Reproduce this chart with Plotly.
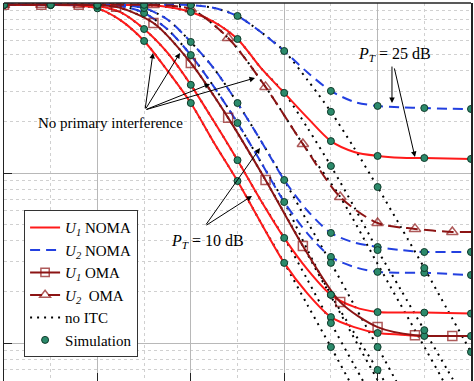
import plotly.graph_objects as go

# SNR grid (dB) for the analytical curves
snr = [0, 2.5, 5, 7.5, 10, 12.5, 15, 17.5, 20, 22.5, 25, 27.5, 30, 32.5, 35, 37.5, 40, 42.5, 45, 47.5, 50]

# U1 NOMA (red solid)
u1_noma_nopi = [0.975, 0.975, 0.975, 0.97, 0.93, 0.79, 0.598, 0.40, 0.258, 0.150, 0.0897, 0.051, 0.0296, 0.0195, 0.0142, 0.0124, 0.01145, 0.0112, 0.0110, 0.0110, 0.0110]
u1_noma_p10 = [0.975, 0.975, 0.975, 0.975, 0.96, 0.88, 0.703, 0.51, 0.33, 0.20, 0.119, 0.069, 0.0415, 0.027, 0.0192, 0.0163, 0.0152, 0.0151, 0.0151, 0.0150, 0.0149]
u1_noma_p25 = [0.975, 0.975, 0.975, 0.975, 0.975, 0.975, 0.972, 0.947, 0.885, 0.773, 0.614, 0.415, 0.296, 0.211, 0.154, 0.133, 0.126, 0.123, 0.1225, 0.1215, 0.121]
# U2 NOMA (blue dashed)
u2_noma_nopi = [0.975, 0.975, 0.975, 0.975, 0.973, 0.96, 0.873, 0.70, 0.494, 0.32, 0.197, 0.116, 0.0675, 0.044, 0.0321, 0.0280, 0.0262, 0.0259, 0.0259, 0.0255, 0.0251]
u2_noma_p10 = [0.975, 0.975, 0.975, 0.975, 0.975, 0.972, 0.934, 0.80, 0.59, 0.41, 0.258, 0.155, 0.091, 0.060, 0.0444, 0.039, 0.0367, 0.0352, 0.0343, 0.0343, 0.0343]
u2_noma_p25 = [0.975, 0.975, 0.975, 0.975, 0.975, 0.975, 0.975, 0.975, 0.973, 0.935, 0.839, 0.675, 0.522, 0.39, 0.304, 0.262, 0.248, 0.243, 0.241, 0.239, 0.238]

# no ITC (black dotted)
noitc_u2_p25 = [0.975, 0.975, 0.975, 0.975, 0.975, 0.975, 0.975, 0.975, 0.973, 0.935, 0.839, 0.675, 0.522, 0.352, 0.229, 0.140, 0.0827, 0.048, 0.0276, 0.0156, 0.00885]
noitc_u1_p25 = [0.975, 0.975, 0.975, 0.975, 0.975, 0.975, 0.972, 0.947, 0.885, 0.773, 0.614, 0.415, 0.296, 0.184, 0.11, 0.063, 0.0352, 0.0205, 0.0119, 0.0069, 0.004]
noitc_u2_p10 = [0.975, 0.975, 0.975, 0.975, 0.975, 0.972, 0.934, 0.80, 0.59, 0.41, 0.258, 0.155, 0.091, 0.0515, 0.0296, 0.0167, 0.00947, 0.0053, 0.003, 0.0017, 0.00095]
noitc_u2_nopi = [0.975, 0.975, 0.975, 0.975, 0.973, 0.96, 0.873, 0.70, 0.494, 0.32, 0.197, 0.116, 0.0675, 0.0352, 0.0192, 0.01145, 0.00694, 0.004, 0.0023, 0.0013, 0.00075]
noitc_u1_p10 = [0.975, 0.975, 0.975, 0.975, 0.96, 0.88, 0.703, 0.51, 0.33, 0.20, 0.119, 0.069, 0.0415, 0.0235, 0.0131, 0.0074, 0.0042, 0.0024, 0.00135, 0.00076, 0.00043]
noitc_u1_nopi = [0.975, 0.975, 0.975, 0.97, 0.93, 0.79, 0.598, 0.40, 0.258, 0.150, 0.0897, 0.051, 0.0296, 0.0167, 0.00947, 0.0053, 0.003, 0.0017, 0.00095, 0.00054, 0.0003]

# OMA curves (markers every 4 dB)
snr_oma = [0, 4, 8, 12, 16, 20, 24, 28, 32, 36, 40, 44, 48, 50]
u1_oma = [0.975, 0.975, 0.975, 0.95, 0.763, 0.444, 0.211, 0.091, 0.0372, 0.0174, 0.0124, 0.0111, 0.0110, 0.0110]
u2_oma = [0.975, 0.975, 0.975, 0.975, 0.972, 0.92, 0.623, 0.321, 0.148, 0.0722, 0.0508, 0.0469, 0.045, 0.045]
noitc_u1_oma = [0.975, 0.975, 0.975, 0.95, 0.763, 0.444, 0.211, 0.091, 0.0372, 0.015, 0.00606, 0.0025, 0.001, 0.00065]
noitc_u2_oma = [0.975, 0.975, 0.975, 0.975, 0.972, 0.92, 0.623, 0.321, 0.148, 0.0722, 0.0292, 0.0119, 0.0048, 0.003]

# Simulation points on the no-ITC curves
sim_noitc_snr = [35, 40, 45, 50, 35, 40, 45, 35, 40, 35, 40, 35, 35]
sim_noitc_val = [0.229, 0.0827, 0.0276, 0.00885, 0.11, 0.0352, 0.0119, 0.0296, 0.00947, 0.0192, 0.00694, 0.0131, 0.00947]

RED = '#ff1a1a'
BLUE = '#2340e0'
DRED = '#8c1414'
GREEN = '#2b8a6b'
FONT = 'Liberation Serif'

fig = go.Figure()

def line(x, y, color, dash, width, name=None, legend=False, rank=None, **kw):
    fig.add_trace(go.Scatter(x=x, y=y, mode=kw.pop('mode', 'lines'), line=dict(color=color, dash=dash, width=width, shape='spline', smoothing=0.8),
                             name=name, showlegend=legend, legendrank=rank, hoverinfo='skip', **kw))

# dotted no-ITC curves first (drawn beneath)
for c in [noitc_u2_p25, noitc_u1_p25, noitc_u2_p10, noitc_u2_nopi, noitc_u1_p10, noitc_u1_nopi]:
    line(snr, c, 'black', '2px,5px', 2)
for c in [noitc_u1_oma, noitc_u2_oma]:
    line(snr_oma, c, 'black', '2px,5px', 2)

# U1 NOMA
line(snr, u1_noma_nopi, RED, 'solid', 2, '<i>U</i><sub><i>1</i></sub> NOMA', True, 1)
line(snr, u1_noma_p10, RED, 'solid', 2)
line(snr, u1_noma_p25, RED, 'solid', 2)
# U2 NOMA
line(snr, u2_noma_nopi, BLUE, '10px,6px', 2, '<i>U</i><sub><i>2</i></sub> NOMA', True, 2)
line(snr, u2_noma_p10, BLUE, '10px,6px', 2)
line(snr, u2_noma_p25, BLUE, '10px,6px', 2)

msize = [9] * (len(snr_oma) - 1) + [0]
line(snr_oma, u1_oma, DRED, 'solid', 2, '<i>U</i><sub><i>1</i></sub> OMA', True, 3, mode='lines+markers',
     marker=dict(symbol='square-open', size=msize, color=DRED, line=dict(width=1.5)))
line(snr_oma, u2_oma, DRED, '12px,6px', 2, '<i>U</i><sub><i>2</i></sub>  OMA', True, 4, mode='lines+markers',
     marker=dict(symbol='triangle-up-open', size=[s + 1 for s in msize], color=DRED, line=dict(width=1.5)))

# legend entry for no ITC
fig.add_trace(go.Scatter(x=[None], y=[None], mode='lines', line=dict(color='black', dash='2px,5px', width=2),
                         name='no ITC', legendrank=5, hoverinfo='skip'))

# simulation markers
sim_snr = snr[::2]
first = True
for c in [u1_noma_nopi, u1_noma_p10, u1_noma_p25, u2_noma_nopi, u2_noma_p10, u2_noma_p25]:
    fig.add_trace(go.Scatter(x=sim_snr, y=c[::2], mode='markers', marker=dict(symbol='circle', size=7, color=GREEN, line=dict(color='#103a2a', width=1)),
                             name='Simulation', showlegend=first, legendrank=6, hoverinfo='skip'))
    first = False
fig.add_trace(go.Scatter(x=sim_noitc_snr, y=sim_noitc_val, mode='markers', marker=dict(symbol='circle', size=7, color=GREEN, line=dict(color='#103a2a', width=1)),
                         showlegend=False, hoverinfo='skip'))

# annotations
ann = []
def arrow(hx, hy, tx, ty):
    ann.append(dict(x=hx, y=hy, ax=tx, ay=ty, xref='x', yref='y', axref='x', ayref='y', text='', showarrow=True,
                    arrowhead=2, arrowsize=1.1, arrowwidth=1, arrowcolor='black'))

ann.append(dict(x=11.4, y=-0.706, xref='x', yref='y', text='No primary interference', showarrow=False,
                font=dict(family=FONT, size=15, color='black')))
for hx, hy in [(15.95, -0.294), (18.84, -0.294), (22.06, -0.476), (26.87, -0.441)]:
    arrow(hx, hy, 15.10, -0.629)

ann.append(dict(x=41.76, y=-0.30, xref='x', yref='y', text='<i>P</i><sub><i>T</i></sub> = 25 dB', showarrow=False,
                font=dict(family=FONT, size=16, color='black')))
arrow(41.54, -0.588, 41.54, -0.365)
arrow(44.0, -0.906, 41.76, -0.376)

ann.append(dict(x=21.79, y=-1.40, xref='x', yref='y', text='<i>P</i><sub><i>T</i></sub> = 10 dB', showarrow=False,
                font=dict(family=FONT, size=16, color='black')))
arrow(27.41, -0.853, 21.52, -1.312)
arrow(26.55, -1.135, 21.52, -1.312)

fig.update_layout(
    width=474, height=381,
    margin=dict(l=4, r=3, t=3, b=0, autoexpand=False),
    paper_bgcolor='white', plot_bgcolor='white',
    showlegend=True,
    legend=dict(x=0.043, y=0.452, xanchor='left', yanchor='top', bgcolor='white', bordercolor='#333', borderwidth=1,
                font=dict(family=FONT, size=15, color='black'), tracegroupgap=0),
    annotations=ann,
    shapes=[dict(type='line', xref='paper', yref='paper', x0=0, x1=1, y0=1, y1=1, line=dict(color='#222', width=1.5))],
    xaxis=dict(range=[0, 50], dtick=10, showgrid=True, gridcolor='#b8b8b8', gridwidth=1, zeroline=False,
               automargin=False,
               ticks='inside', ticklen=8, tickcolor='#222', showticklabels=False, showline=False,
               minor=dict(dtick=5, showgrid=True, gridcolor='#d0d0d0', griddash='dot', ticks='')),
    yaxis=dict(type='log', range=[-2.2235, 0], dtick=1, showgrid=True, gridcolor='#b8b8b8', gridwidth=1, zeroline=False,
               automargin=False,
               ticks='inside', ticklen=8, tickcolor='#222', showticklabels=False, showline=True, mirror=True,
               linecolor='#222', linewidth=1.5,
               minor=dict(dtick='D1', showgrid=True, gridcolor='#d0d0d0', griddash='dot', ticks='')),
)

fig.write_html('out.html', config={'displayModeBar': False, 'staticPlot': True},
               post_script="document.body.style.margin='0';document.body.style.padding='0';document.body.style.overflow='hidden';")
